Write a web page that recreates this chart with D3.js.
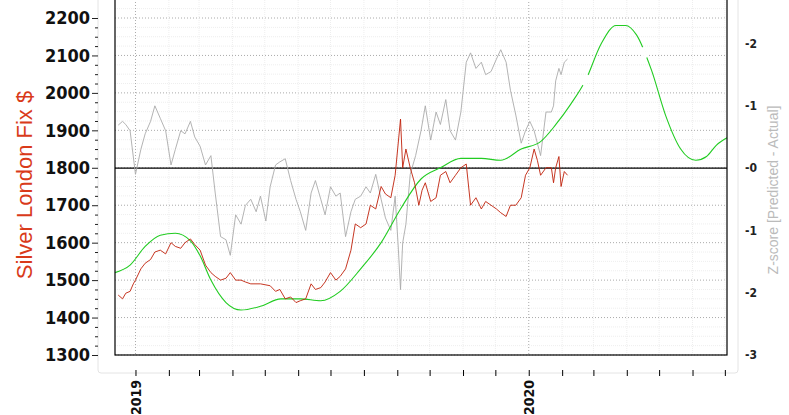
<!DOCTYPE html>
<html><head><meta charset="utf-8">
<script src="https://cdn.jsdelivr.net/npm/d3@7"></script>
<style>body{margin:0;background:#fff}</style>
</head><body><div id="canvas"></div>
<script>
// days from 2019-01-01, value
var priceDays = [-16,-12,-9,-5,-2,0,5,9,14,18,23,28,33,37,42,46,51,55,60,65,70,74,79,84,88,93,98,102,107,116,125,130,134,139,144,149,153,158,163,167,172,176,181,186,190,195,200,204,209,214,218,223,228,232,237,241,246,248,251,255,259,263,266,269,274,279,283,288,292,297,302,307,311,316,321,325,330,335,339,344,348,353,358,362,366,370,373,376,381,386,388,390,393,395,398,401];
var priceVals = [1460,1450,1465,1470,1490,1500,1530,1545,1555,1575,1580,1570,1600,1590,1585,1600,1610,1595,1580,1540,1520,1510,1500,1505,1520,1500,1500,1495,1490,1490,1485,1470,1475,1450,1455,1440,1445,1450,1490,1475,1480,1495,1520,1500,1510,1530,1580,1650,1640,1650,1700,1690,1750,1730,1720,1780,1930,1800,1850,1800,1760,1700,1740,1760,1710,1720,1780,1790,1760,1780,1800,1810,1700,1720,1690,1710,1700,1690,1680,1670,1700,1700,1720,1780,1800,1850,1820,1780,1800,1800,1760,1800,1830,1750,1790,1780];

var zDays = [-16,-12,-9,-5,0,5,9,14,18,23,28,33,37,42,46,51,55,60,65,70,74,79,84,88,93,98,102,107,112,116,121,125,130,134,139,144,149,153,158,163,167,172,176,181,186,190,195,200,204,209,214,218,223,228,232,237,241,244,246,248,251,255,260,265,269,274,279,283,288,292,297,302,307,311,316,321,325,330,335,339,344,348,353,358,362,366,370,373,376,381,386,388,390,393,395,398,401];
var zVals = [0.69,0.75,0.7,0.6,-0.1,0.3,0.55,0.75,1.0,0.8,0.6,0.05,0.3,0.6,0.55,0.75,0.5,0.35,0.05,0.2,-0.4,-1.1,-1.15,-1.4,-0.75,-0.9,-0.6,-0.5,-0.7,-0.45,-0.85,-0.3,0.05,0.1,0.15,-0.2,-0.5,-0.7,-1.0,-0.4,-0.2,-0.5,-0.75,-0.3,-0.45,-0.4,-1.1,-0.7,-0.5,-0.45,-0.3,-0.4,-0.1,-0.5,-0.8,-1.0,-0.45,-1.3,-1.95,-1.2,-0.9,-0.1,0.2,0.6,1.0,0.45,0.9,0.7,1.1,0.6,0.45,0.9,1.7,1.85,1.6,1.7,1.5,1.55,1.75,1.9,1.7,1.25,0.85,0.4,0.6,0.75,0.6,0.4,0.2,0.9,0.9,1.0,1.4,1.6,1.5,1.7,1.75];

var predDays = [-19,-5,9,23,37,51,60,70,84,98,116,135,153,172,190,209,228,246,265,283,302,321,339,358,376,390,404,418,432,446,455,465,479,492,506,520,530,539,549];
var predVals = [1520,1540,1590,1620,1625,1605,1565,1500,1440,1420,1430,1450,1450,1445,1470,1530,1600,1690,1770,1800,1825,1825,1820,1850,1870,1915,1970,2035,2130,2180,2180,2155,2060,1940,1850,1820,1830,1860,1880];
var predGaps = [[415,420],[470,474]];

var leftTicks = [1300,1400,1500,1600,1700,1800,1900,2000,2100,2200];
var rightTicks = [-3,-2,-1,0,1,2];

var base = new Date(2019,0,1);
function day(d){ return d3.timeDay.offset(base, d); }

var svg = d3.select("#canvas").append("svg").attr("width",789).attr("height",415);
var L=115, R=727, T=-10, B=355;
var x = d3.scaleTime().domain([new Date(2018,11,13), new Date(2020,6,3)]).range([L,R]);
var y = d3.scaleLinear().domain([1300,2200]).range([B,18]);
var z = d3.scaleLinear().domain([-3,2]).range([B,43.5]);
var font = "'DejaVu Sans Condensed','DejaVu Sans',sans-serif";

svg.append("rect").attr("x",98).attr("y",-5).attr("width",640).attr("height",378)
  .attr("fill","#fff").attr("stroke","#e4e4e4").attr("rx",3);

// grid
var g = svg.append("g");
d3.range(1300,2260,25).forEach(function(v){
  g.append("line").attr("x1",L).attr("x2",R).attr("y1",y(v)).attr("y2",y(v))
   .attr("stroke", v%100===0 ? "#aaa" : "#eee").attr("stroke-dasharray", v%100===0 ? "1,2" : "1,1");
});
x.ticks(d3.timeMonth.every(1)).forEach(function(d){
  g.append("line").attr("x1",x(d)).attr("x2",x(d)).attr("y1",T).attr("y2",B)
   .attr("stroke", d.getMonth()===0 ? "#aaa" : "#eee").attr("stroke-dasharray", d.getMonth()===0 ? "1,2" : "1,1");
});

svg.append("line").attr("x1",L).attr("x2",R).attr("y1",z(0)).attr("y2",z(0)).attr("stroke","#000").attr("stroke-width",1.2);

svg.append("path").datum(d3.zip(zDays,zVals)).attr("fill","none").attr("stroke","#aaa").attr("stroke-width",0.9)
  .attr("d", d3.line().x(function(d){return x(day(d[0]));}).y(function(d){return z(d[1]);}));

var predPts = d3.zip(predDays,predVals);
var sampler = d3.scaleLinear().domain(predDays).range(predVals);
svg.append("path").datum(predPts)
  .attr("fill","none").attr("stroke","#22cc22").attr("stroke-width",1.1)
  .attr("d", d3.line().curve(d3.curveMonotoneX).x(function(d){return x(day(d[0]));}).y(function(d){return y(d[1]);}));
predGaps.forEach(function(gp){
  svg.append("line").attr("x1",x(day(gp[0]))).attr("x2",x(day(gp[1])))
   .attr("y1",y(sampler(gp[0]))).attr("y2",y(sampler(gp[1]))).attr("stroke","#fff").attr("stroke-width",4);
});

svg.append("path").datum(d3.zip(priceDays,priceVals)).attr("fill","none").attr("stroke","#c0200a").attr("stroke-width",0.9)
  .attr("d", d3.line().x(function(d){return x(day(d[0]));}).y(function(d){return y(d[1]);}));

// frame
svg.append("rect").attr("x",L).attr("y",T).attr("width",R-L).attr("height",B-T).attr("fill","none").attr("stroke","#000").attr("stroke-width",1.2);

// left axis
var la = svg.append("g").attr("transform","translate(98,0)")
  .call(d3.axisLeft(y).tickValues(leftTicks).tickFormat(d3.format("d")).tickSize(6).tickPadding(2));
la.append("g").call(d3.axisLeft(y).tickValues(d3.range(1300,2225,25).filter(function(v){return v%100;})).tickFormat("").tickSize(3));
la.selectAll(".domain").remove();
la.selectAll("text").attr("font-family",font).attr("font-weight","bold").attr("font-size",18).attr("fill","#111");
la.selectAll("line").attr("stroke","#222");

// right axis
var ra = svg.append("g").attr("transform","translate(743,0)")
  .call(d3.axisRight(z).tickValues(rightTicks).tickFormat(function(d){return d<0?"-"+(-d):"-"+d;}).tickSize(0).tickPadding(0));
ra.selectAll(".domain").remove();
ra.selectAll("text").attr("font-family",font).attr("font-weight","bold").attr("font-size",12).attr("fill","#222").attr("x",2);

// x axis
var xa = svg.append("g").attr("transform","translate(0,376)")
  .call(d3.axisBottom(x).ticks(d3.timeMonth.every(1)).tickSize(-6).tickFormat(function(d){ return d.getMonth()===0 ? d3.timeFormat("%Y")(d) : ""; }));
xa.selectAll(".domain").remove();
xa.selectAll("text").attr("font-family",font).attr("font-weight","bold").attr("font-size",14).attr("fill","#111")
  .attr("transform","rotate(-90)").attr("text-anchor","end").attr("x",-4).attr("y",0).attr("dy","0.35em");

svg.append("text").attr("transform","translate(32,185) rotate(-90)").attr("text-anchor","middle")
  .attr("font-family","'Liberation Sans',sans-serif").attr("font-size",22).attr("fill","#d93a1a").text("Silver London Fix $");
svg.append("text").attr("transform","translate(778,190) rotate(-90)").attr("text-anchor","middle")
  .attr("font-family","'Liberation Sans',sans-serif").attr("font-size",14).attr("fill","#bbb").text("Z-score [Predicted - Actual]");
</script></body></html>
